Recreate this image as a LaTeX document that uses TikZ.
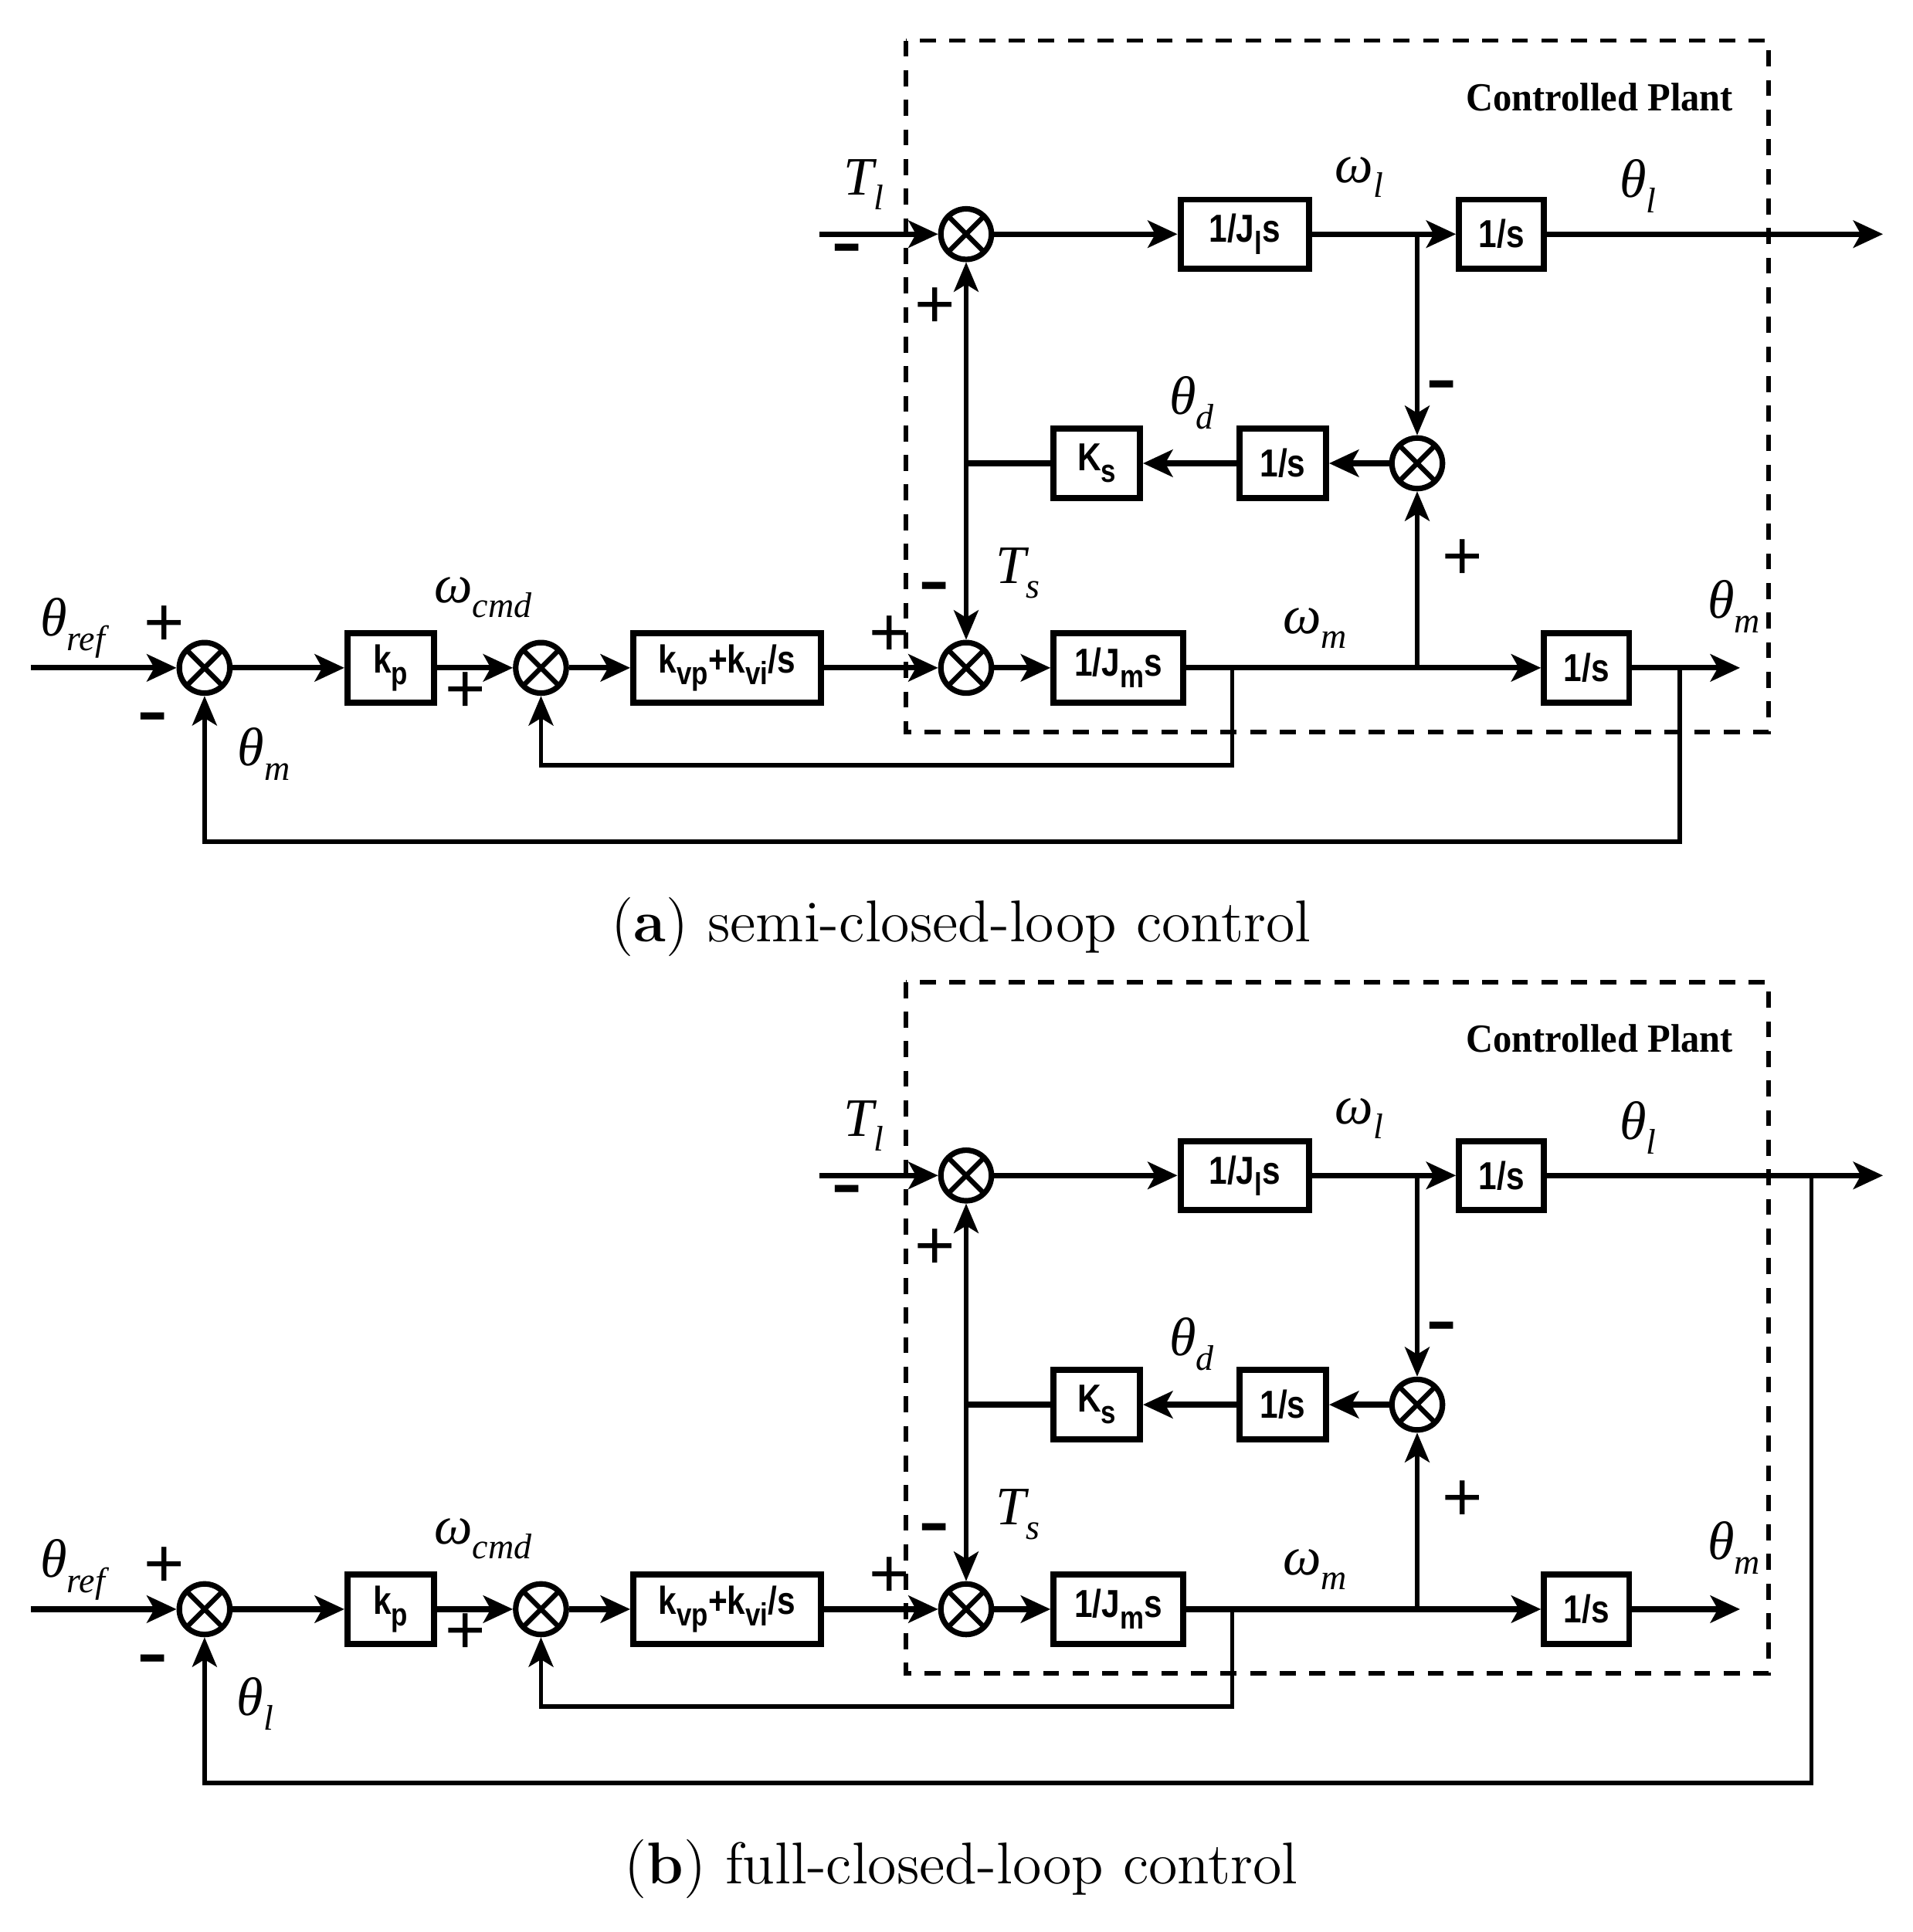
\documentclass[tikz,border=0pt]{standalone}
\usepackage{fontspec}
\usetikzlibrary{arrows.meta}
\newfontfamily\tnr{Liberation Serif}
\newfontfamily\arl{Liberation Sans}
\newcommand\sbx[1]{\raisebox{-0.3em}{\fontsize{7.4}{7.4}\selectfont #1}}
\newcommand\bt[1]{\scalebox{0.84}[1]{#1}}
\newcommand\lb[2]{#1\raisebox{-3.4pt}{\fontsize{8.2}{8.2}\selectfont #2}}
\tikzset{
  blk/.style={draw, line width=0.05cm, minimum height=0.56cm, inner sep=0pt,
    font=\arl\bfseries\fontsize{9}{10}\selectfont},
  sumn/.style={circle, draw, line width=0.045cm, minimum size=0.41cm, inner sep=0pt,
    path picture={\draw[line width=0.04cm]
      (path picture bounding box.north west) -- (path picture bounding box.south east)
      (path picture bounding box.north east) -- (path picture bounding box.south west);}},
  conn/.style={line width=0.045cm, -{Stealth[length=0.24cm,width=0.22cm,inset=0.06cm]}},
  vconn/.style={line width=0.035cm, -{Stealth[length=0.24cm,width=0.2cm,inset=0.06cm]}},
  ln/.style={line width=0.045cm},
  vln/.style={line width=0.035cm},
  dashbox/.style={line width=0.035cm, dash pattern=on 0.13cm off 0.11cm},
  lbl/.style={font=\tnr\itshape\fontsize{12.5}{14}\selectfont, inner sep=0pt},
  plus/.style={font=\arl\fontsize{16}{16}\selectfont, inner sep=0pt},
  minus/.style={font=\arl\bfseries\fontsize{11}{11}\selectfont, inner sep=0pt, yscale=1.5},
  cpl/.style={font=\tnr\bfseries\fontsize{9.2}{10}\selectfont, inner sep=0pt, xscale=0.94},
  capt/.style={font=\fontsize{13.6}{16}\selectfont, inner sep=0pt}
}
\newcommand\commonpanel[1]{%
  \draw[dashbox] (735,33) rectangle (1435,594);
  \node[cpl] (#1cp) at (1298,79) {Controlled Plant};
  \node[sumn] (#1S1) at (784,190) {};
  \node[blk, minimum width=1.04cm] (#1Jl) at (1010,190) {\bt{1/J\sbx{l}s}};
  \node[blk, minimum width=0.69cm] (#1I1) at (1218.5,190) {\bt{1/s}};
  \node[sumn] (#1S3) at (1150,376) {};
  \node[blk, minimum width=0.70cm] (#1I2) at (1041,376) {\bt{1/s}};
  \node[blk, minimum width=0.70cm] (#1Ks) at (890,376) {\bt{K\sbx{s}}};
  \node[sumn] (#1Sa) at (166,542) {};
  \node[blk, minimum width=0.70cm] (#1Kp) at (317,542) {\bt{k\sbx{p}}};
  \node[sumn] (#1Sb) at (439,542) {};
  \node[blk, minimum width=1.52cm] (#1PI) at (590,542) {\bt{k\sbx{vp}+k\sbx{vi}/s}};
  \node[sumn] (#1S2) at (784,542) {};
  \node[blk, minimum width=1.05cm] (#1Jm) at (907.5,542) {\bt{1/J\sbx{m}s}};
  \node[blk, minimum width=0.69cm] (#1I3) at (1287.5,542) {\bt{1/s}};
  \coordinate (#1Tin) at (665,190);
  \coordinate (#1ref) at (25,542);
  \coordinate (#1brA) at (1150,190);
  \coordinate (#1jn) at (784,376);
  \coordinate (#1brB) at (1000,542);
  \coordinate (#1brC) at (1150,542);
  \coordinate (#1out1) at (1528,190);
  \coordinate (#1out3) at (1412,542);
  \coordinate (#1fbB) at (1000,621);
  \draw[conn] (#1Tin) -- (#1S1);
  \draw[conn] (#1S1) -- (#1Jl);
  \draw[conn] (#1Jl) -- (#1I1);
  \draw[conn] (#1I1) -- (#1out1);
  \draw[vconn] (#1brA) -- (#1S3);
  \draw[conn] (#1S3) -- (#1I2);
  \draw[conn] (#1I2) -- (#1Ks);
  \draw[ln] (#1Ks) -- (#1jn);
  \draw[vconn] (#1jn) -- (#1S1);
  \draw[vconn] (#1jn) -- (#1S2);
  \draw[conn] (#1ref) -- (#1Sa);
  \draw[conn] (#1Sa) -- (#1Kp);
  \draw[conn] (#1Kp) -- (#1Sb);
  \draw[conn] (#1Sb) -- (#1PI);
  \draw[conn] (#1PI) -- (#1S2);
  \draw[conn] (#1S2) -- (#1Jm);
  \draw[conn] (#1Jm) -- (#1I3);
  \draw[vconn] (#1brC) -- (#1S3);
  \draw[conn] (#1I3) -- (#1out3);
  \draw[vconn] (#1brB) -- (#1fbB) -| (#1Sb);
  \node[lbl] (#1lTl) at (701,150) {\lb{T}{l}};
  \node[lbl] (#1lwl) at (1103,144) {\lb{ω}{l}};
  \node[lbl] (#1lthl) at (1329,151) {\lb{θ}{l}};
  \node[lbl] (#1lthd) at (967,327) {\lb{θ}{d}};
  \node[lbl] (#1lTs) at (826,465) {\lb{T}{s}};
  \node[lbl] (#1lthr) at (59,510) {\lb{θ}{ref}};
  \node[lbl] (#1lwc) at (392,485) {\lb{ω}{cmd}};
  \node[lbl] (#1lwm) at (1067,510) {\lb{ω}{m}};
  \node[lbl] (#1lthm) at (1407,492) {\lb{θ}{m}};
  \node[minus] (#1m1) at (687,207) {–};
  \node[plus] (#1p1) at (759,250) {+};
  \node[minus] (#1m2) at (1170,318) {–};
  \node[plus] (#1p2) at (1187,454) {+};
  \node[minus] (#1m3) at (758,482) {–};
  \node[plus] (#1p3) at (722,516) {+};
  \node[plus] (#1p4) at (133,508) {+};
  \node[minus] (#1m4) at (124,588) {–};
  \node[plus] (#1p5) at (378,562) {+};
}
\begin{document}
\begin{tikzpicture}[x=0.01cm,y=-0.01cm]
\useasboundingbox (0,0) rectangle (1552,1568);
% panel (a)
\commonpanel{a}
\coordinate (abr) at (1363,542);
\coordinate (afb1) at (1363,683);
\draw[vconn] (abr) -- (afb1) -| (aSa);
\node[lbl] (afbl) at (214,612) {\lb{θ}{m}};
\node[capt] (acap) at (780,752) {(\textbf{a}) semi-closed-loop control};
% panel (b)
\begin{scope}[shift={(0,764)}]
\commonpanel{b}
\coordinate (bbr) at (1470,190);
\coordinate (bfb1) at (1470,683);
\draw[vconn] (bbr) -- (bfb1) -| (bSa);
\node[lbl] (bfbl) at (207,619) {\lb{θ}{l}};
\node[capt] (bcap) at (780,753) {(\textbf{b}) full-closed-loop control};
\end{scope}
\end{tikzpicture}
\end{document}
